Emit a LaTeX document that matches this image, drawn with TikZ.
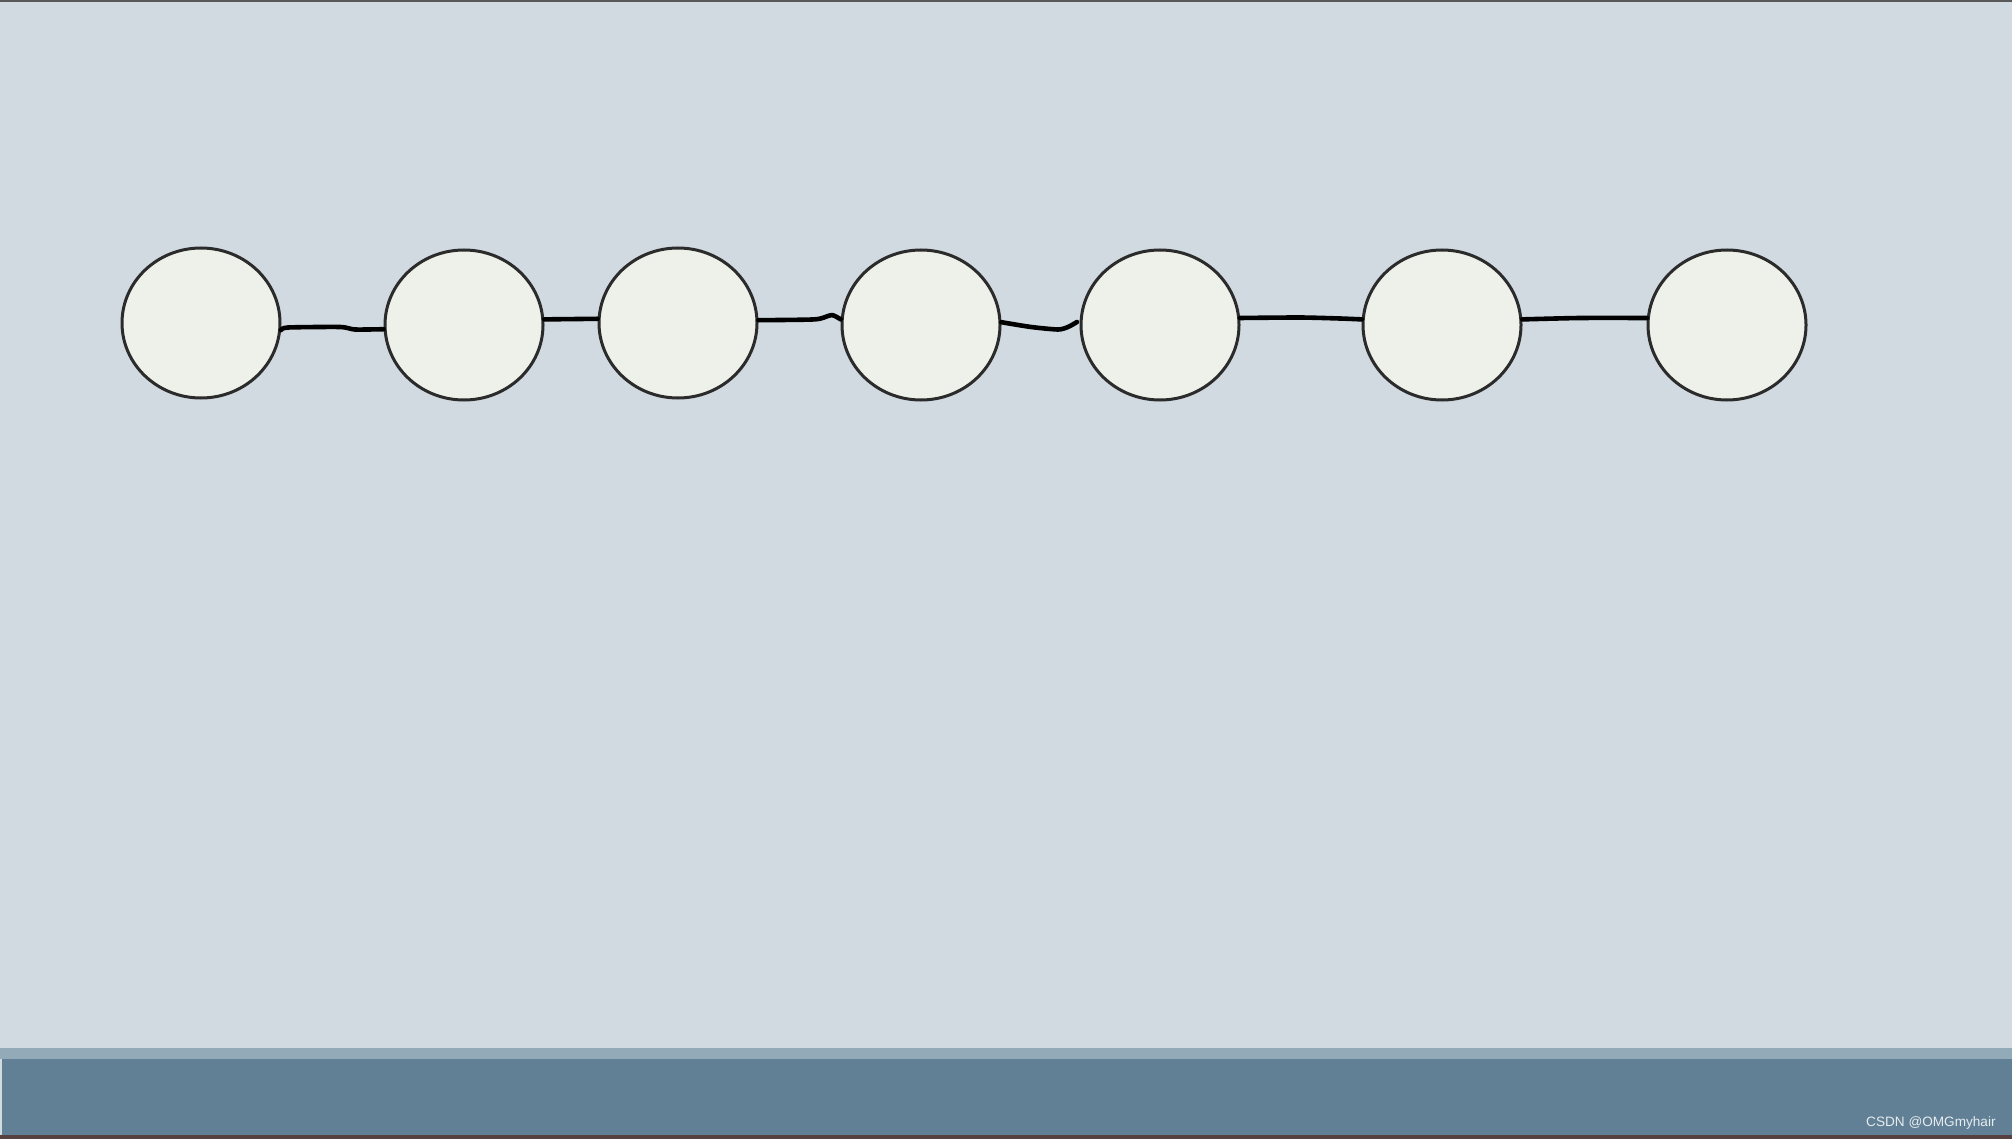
\documentclass[tikz,border=0pt]{standalone}
\usepackage{fontspec}
\usepackage{xcolor}
\usepackage{tikz}
\usetikzlibrary{shapes.geometric}
\setsansfont{Liberation Sans}
\definecolor{canvas}{HTML}{D1DAE1}
\definecolor{barlight}{HTML}{93AAB8}
\definecolor{bardark}{HTML}{618095}
\definecolor{nodefill}{HTML}{EEF1E9}
\definecolor{nodeline}{HTML}{2B2B2B}
\tikzset{edge/.style = {line width=2.3pt, line cap=round, line join=round, black}}

\begin{document}
\begin{tikzpicture}[x=0.5pt,y=-0.5pt,main node/.style={ellipse,draw=nodeline,line width=1.5pt,fill=nodefill,inner sep=0pt,minimum width=79pt,minimum height=75pt}]
                % background and bottom bar
                \fill[canvas] (0,0) rectangle (2012,1139);
                \fill[black!65] (0,0) rectangle (2012,2);
                \fill[barlight] (0,1048) rectangle (2012,1059);
                \fill[bardark] (0,1059) rectangle (2012,1135);
                \fill[canvas] (0,1059) rectangle (1.5,1135);
                \fill[black!70!red!40!black!75] (0,1135) rectangle (2012,1139);
                \node[font=\sffamily\fontsize{6.8}{8}\selectfont, text=white!85!bardark, anchor=base east, inner sep=0pt] (mark) at (1996,1126.5) {CSDN @OMGmyhair};

                \node[main node] (1) at (201,323) {};
                \node[main node] (2) at (464,325) {};
                \node[main node] (3) at (678,323) {};
                \node[main node] (4) at (921,325) {};
                \node[main node] (5) at (1160,325) {};
                \node[main node] (6) at (1442,325) {};
                \node[main node] (7) at (1727,325) {};
                \coordinate (hook) at (1077,322);

                \draw[edge] plot[smooth,tension=.4] coordinates {(1.-5) (288,327.5) (340,327) (355,329.5) (2.-177)};
                \draw[edge] (2.4) -- (3.177);
                \draw[edge] plot[smooth,tension=.5] coordinates {(3.2) (812,319.5) (824,317.5) (832,315) (4.176)};
                \draw[edge] plot[smooth,tension=.4] coordinates {(4.2) (1031,327) (1058,329.5) (1068,327) (hook)};
                \draw[edge] plot[smooth,tension=.4] coordinates {(5.5) (1300,317.5) (1340,318.5) (6.176)};
                \draw[edge] plot[smooth,tension=.4] coordinates {(6.4) (1580,318) (7.175)};
            \end{tikzpicture}
\end{document}
